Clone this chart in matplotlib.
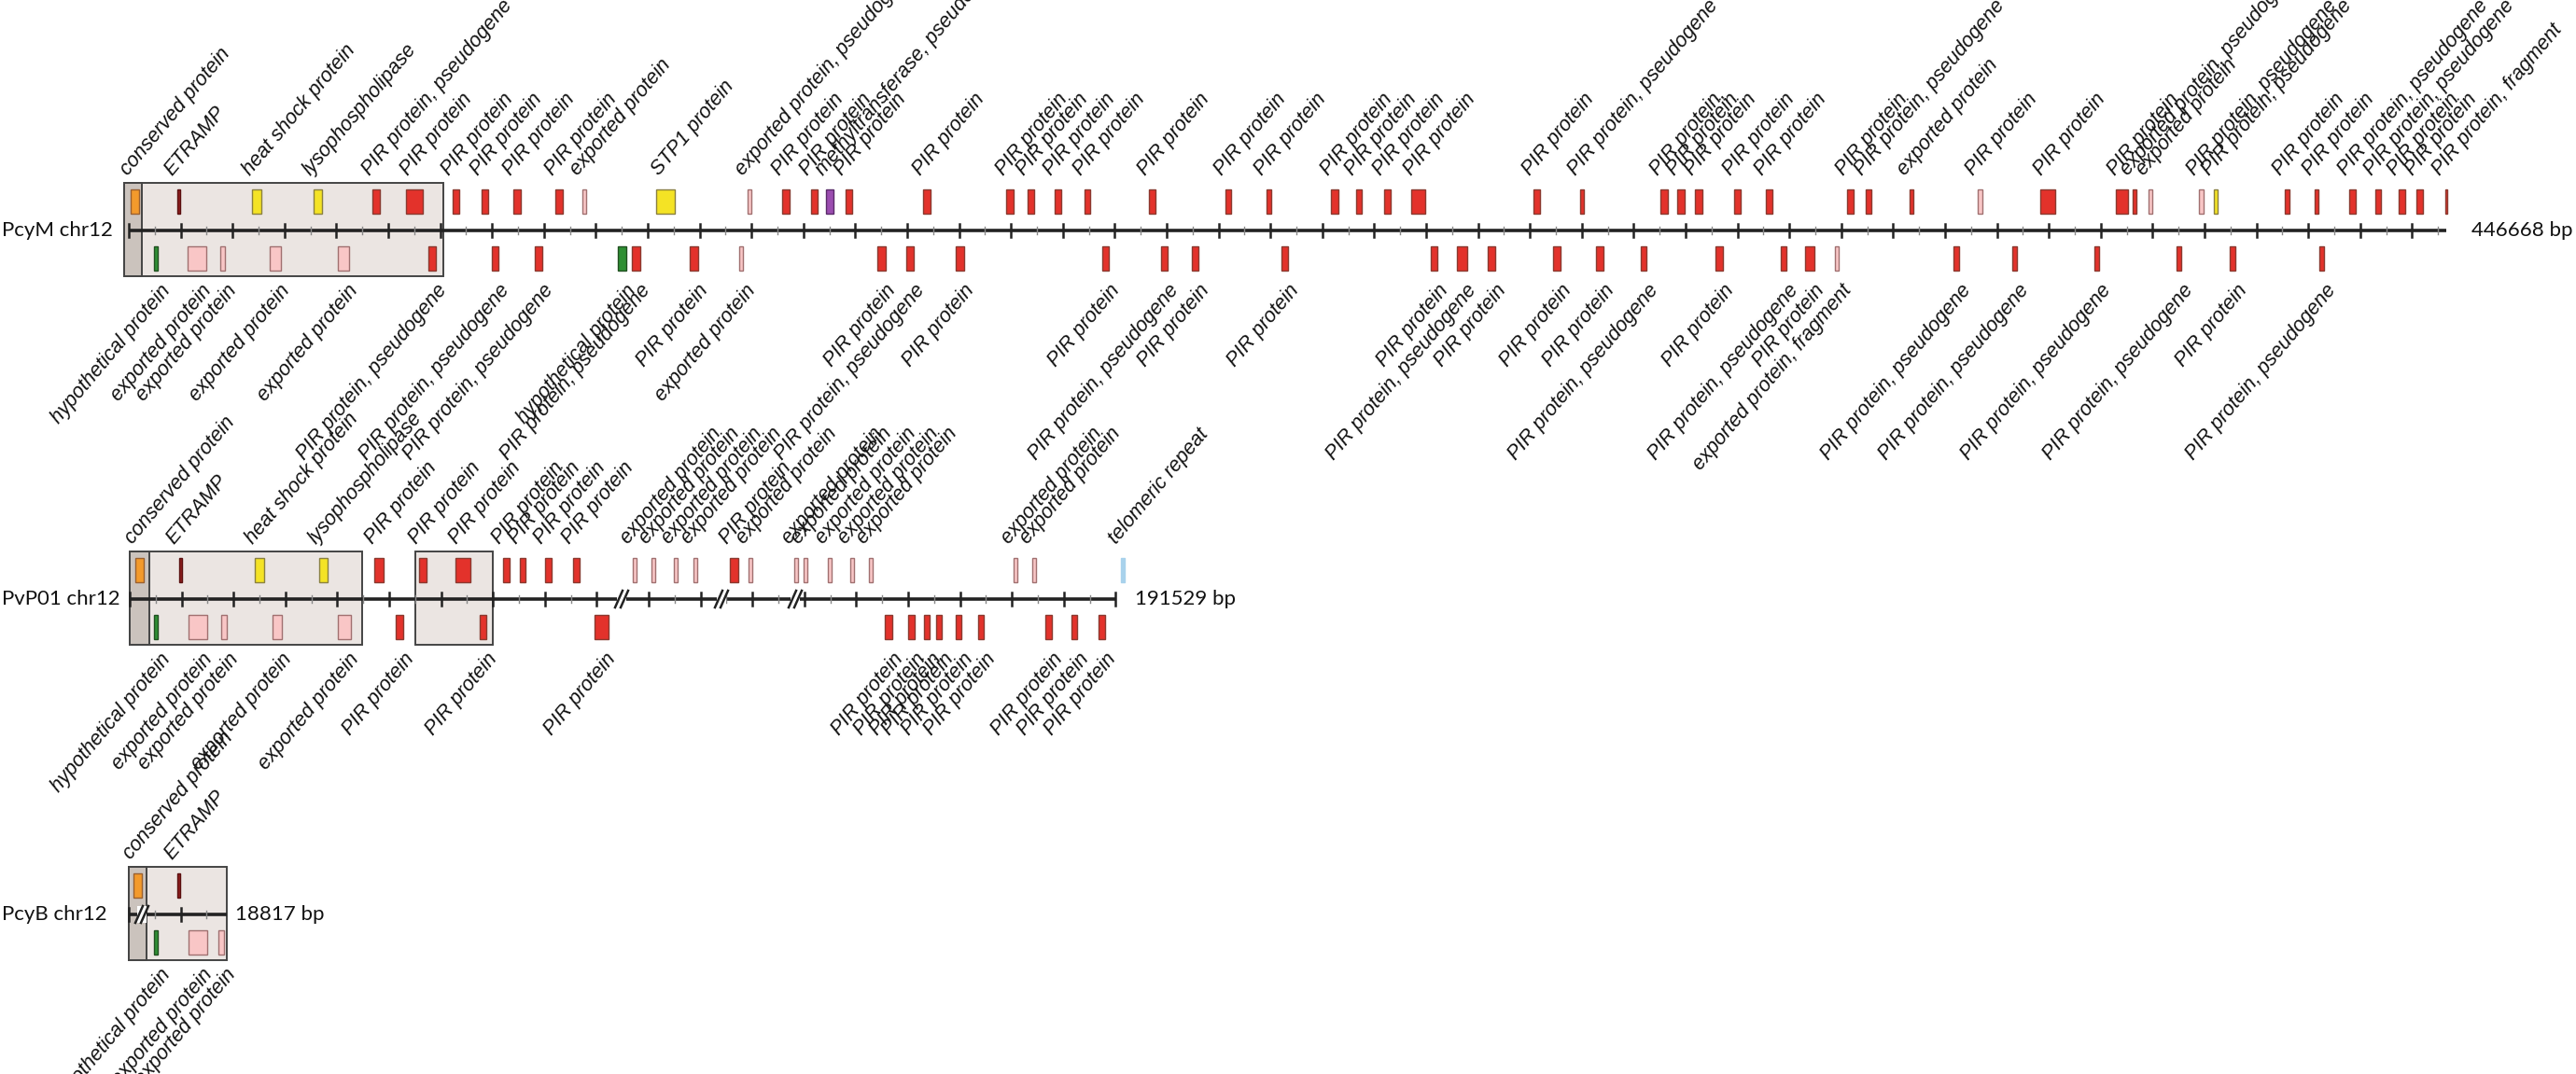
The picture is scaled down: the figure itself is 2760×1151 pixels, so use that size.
import matplotlib
matplotlib.use("Agg")
import matplotlib.pyplot as plt
from matplotlib.patches import Rectangle

# ---------------- data (positions in figure-map units) ----------------
PIR = "PIR protein"
PIRP = "PIR protein, pseudogene"
EXP = "exported protein"

# PcyM chr12
m_top_pos = [144, 191, 275, 340, 403, 444, 488, 519, 554, 599, 626, 713, 803, 842, 872, 889, 909,
             993, 1082, 1104, 1133, 1165, 1234, 1316, 1359, 1430, 1456, 1486, 1519, 1646, 1695,
             1783, 1801, 1820, 1861, 1895, 1982, 2002, 2048, 2121, 2194, 2273, 2287, 2304, 2358,
             2374, 2450, 2482, 2520, 2548, 2573, 2592, 2621]
m_top_w = [9, 3, 10, 9, 8, 18, 7, 7, 8, 8, 4, 20, 4, 8, 7, 8, 7,
           8, 8, 7, 7, 6, 7, 6, 5, 8, 6, 7, 15, 7, 4,
           8, 8, 8, 7, 7, 7, 6, 4, 5, 16, 13, 4, 4, 5,
           4, 5, 4, 7, 6, 7, 7, 2]
m_top_col = list("odyyrrrrrrpyprrvr" + "rrrrrrrrrrrrrrr" + "rrrrrrrprrrppyr" + "rrrrrrk")
m_top_lab = ["conserved protein", "ETRAMP", "heat shock protein", "lysophospholipase", PIRP, PIR,
             PIR, PIR, PIR, PIR, EXP, "STP1 protein", "exported protein, pseudogene", PIR, PIR,
             "methyltransferase, pseudogene", PIR,
             PIR, PIR, PIR, PIR, PIR, PIR, PIR, PIR, PIR, PIR, PIR, PIR, PIR, PIRP,
             "PIR protein,", PIR, PIR, PIR, PIR, PIR, PIRP, EXP, PIR, PIR, PIR,
             "exported protein, pseudogene", EXP, PIRP, PIRP, PIR, PIR, PIRP, PIRP, PIR, PIR,
             "PIR protein, fragment"]
m_bot_pos = [167, 211, 238, 295, 368, 463, 530, 577, 666, 681, 743, 794,
             944, 975, 1028, 1184, 1247, 1280, 1376, 1536, 1566, 1598, 1668, 1714, 1761,
             1842, 1911, 1939, 1968, 2096, 2158, 2246, 2334, 2392, 2487]
m_bot_w = [4, 20, 5, 12, 12, 8, 7, 8, 9, 9, 9, 4,
           9, 8, 9, 7, 7, 7, 7, 7, 11, 8, 8, 8, 6,
           8, 6, 10, 4, 6, 5, 5, 5, 6, 5]
m_bot_col = list("gpppprrrgrrp" + "rrrrrrrrrrrrr" + "rrrprrrrrr")
m_bot_lab = ["hypothetical protein", EXP, EXP, EXP, EXP, PIRP, PIRP, PIRP,
             "hypothetical protein", PIRP, PIR, EXP,
             PIR, PIRP, PIR, PIR, PIRP, PIR, PIR, PIR, PIRP, PIR, PIR, PIR, PIRP,
             PIR, PIRP, PIR, "exported protein, fragment", PIRP, PIRP, PIRP, PIRP, PIR, PIRP]

# PvP01 chr12
v_top_pos = [149, 193, 278, 346, 406, 453, 496, 542, 560, 587, 617, 680, 700, 724, 745, 786, 804,
             853, 863, 889, 913, 933, 1088, 1108, 1203]
v_top_w = [9, 3, 10, 9, 10, 8, 16, 7, 6, 7, 7, 4, 4, 4, 4, 9, 4, 4, 4, 4, 4, 4, 4, 4, 4]
v_top_col = list("odyyrrrrrrr" + "pppprp" + "ppppp" + "pp" + "b")
v_top_lab = ["conserved protein", "ETRAMP", "heat shock protein", "lysophospholipase",
             PIR, PIR, PIR, PIR, PIR, PIR, PIR, EXP, EXP, EXP, EXP, PIR, EXP,
             EXP, EXP, EXP, EXP, EXP, EXP, EXP, "telomeric repeat"]
v_bot_pos = [167, 212, 240, 297, 369, 428, 517, 644, 952, 976, 993, 1006, 1027, 1051,
             1123, 1151, 1180]
v_bot_w = [4, 20, 6, 10, 14, 8, 7, 15, 8, 7, 6, 6, 6, 6, 7, 6, 7]
v_bot_col = list("gpppp" + "rrr" + "rrrrrr" + "rrr")
v_bot_lab = ["hypothetical protein", EXP, EXP, EXP, EXP, PIR, PIR, PIR,
             PIR, PIR, PIR, PIR, PIR, PIR, PIR, PIR, PIR]
v_breaks = [666, 773, 852]

# PcyB chr12
b_top_pos = [147, 191]
b_top_w = [9, 3]
b_top_col = list("od")
b_top_lab = ["conserved protein", "ETRAMP"]
b_bot_pos = [167, 212, 237]
b_bot_w = [4, 20, 6]
b_bot_col = list("gpp")
b_bot_lab = ["hypothetical protein", EXP, EXP]
b_breaks = [152]

chrom_names = ["PcyM chr12", "PvP01 chr12", "PcyB chr12"]
chrom_sizes = ["446668 bp", "191529 bp", "18817 bp"]

# ---------------- style ----------------
COL = {"r": "#e3322b", "p": "#f9c6c6", "y": "#f4e325", "o": "#f39a2c", "d": "#8e1d1d",
       "g": "#2f8f34", "v": "#9b4db0", "b": "#a8d2ec", "k": "#777777"}
EDGE = {"r": "#8a3a30", "p": "#a07070", "y": "#8a8040", "o": "#9a6030", "d": "#5a1010",
        "g": "#205020", "v": "#5a2a6a", "b": "#a8d2ec", "k": "#555555"}

fig = plt.figure(figsize=(27.6, 11.51), dpi=100)
ax = fig.add_axes([0, 0, 1, 1])
ax.set_xlim(0, 2760)
ax.set_ylim(1151, 0)
ax.axis("off")

LAB = dict(fontsize=15.5, style="italic", family=["Liberation Sans", "DejaVu Sans"], color="#111111")
NAME = dict(fontsize=16, family=["Lato", "DejaVu Sans"], color="#111111")
TICK = 55.6
ROT = 50


def draw_chrom(y, x0, x1, boxes, top, bot, breaks, name, size, size_x):
    for bx0, bx1, div in boxes:
        ax.add_patch(Rectangle((bx0, y - 51), bx1 - bx0, 100, facecolor="#ebe5e2",
                               edgecolor="#444444", lw=1.4, zorder=1))
        if div is not None:
            ax.add_patch(Rectangle((bx0, y - 51), div - bx0, 100, facecolor="#cbc3bd",
                                   edgecolor="#444444", lw=1.4, zorder=1.1))
    ax.plot([x0, x1], [y, y], color="#222222", lw=2.6, zorder=3, solid_capstyle="butt")
    k = 0
    while x0 + k * TICK / 2 <= x1 + 0.5:
        xt = x0 + k * TICK / 2
        if k % 2 == 0:
            ax.plot([xt, xt], [y - 7, y + 7], color="#222222", lw=1.8, zorder=3)
        else:
            ax.plot([xt, xt], [y - 4, y + 4], color="#888888", lw=1.0, zorder=3)
        k += 1
    for bx in breaks:
        ax.add_patch(Rectangle((bx - 5, y - 9), 10, 18, facecolor="white", edgecolor="none", zorder=4))
        for d in (-3, 3):
            ax.plot([bx + d - 4, bx + d + 4], [y + 9, y - 9], color="#222222", lw=1.8, zorder=5)
    for pos, w, c, lab in zip(*top):
        ax.add_patch(Rectangle((pos - w / 2, y - 44), w, 26, facecolor=COL[c], edgecolor=EDGE[c],
                               lw=1.0, zorder=6))
        ax.text(pos - 3, y - 55, lab, rotation=ROT, ha="left", va="bottom",
                rotation_mode="anchor", zorder=7, **LAB)
    for pos, w, c, lab in zip(*bot):
        ax.add_patch(Rectangle((pos - w / 2, y + 17), w, 26, facecolor=COL[c], edgecolor=EDGE[c],
                               lw=1.0, zorder=6))
        ax.text(pos + 4, y + 54, lab, rotation=ROT, ha="right", va="top",
                rotation_mode="anchor", zorder=7, **LAB)
    ax.text(2, y, name, ha="left", va="center", **NAME)
    ax.text(size_x, y, size, ha="left", va="center", **NAME)


draw_chrom(247, 138, 2621, [(133, 475, 152)],
           (m_top_pos, m_top_w, m_top_col, m_top_lab),
           (m_bot_pos, m_bot_w, m_bot_col, m_bot_lab),
           [], chrom_names[0], chrom_sizes[0], 2648)
draw_chrom(642, 139, 1196, [(139, 388, 160), (445, 528, None)],
           (v_top_pos, v_top_w, v_top_col, v_top_lab),
           (v_bot_pos, v_bot_w, v_bot_col, v_bot_lab),
           v_breaks, chrom_names[1], chrom_sizes[1], 1216)
draw_chrom(980, 138, 243, [(138, 243, 157)],
           (b_top_pos, b_top_w, b_top_col, b_top_lab),
           (b_bot_pos, b_bot_w, b_bot_col, b_bot_lab),
           b_breaks, chrom_names[2], chrom_sizes[2], 252)

fig.savefig("out.png", dpi=100, facecolor="white")
